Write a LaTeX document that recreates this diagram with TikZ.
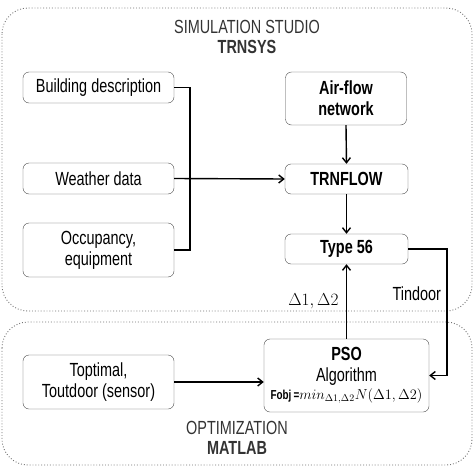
\documentclass[tikz,border=0pt]{standalone}
\usepackage{fontspec}
\setmainfont{Liberation Sans}[FakeStretch=0.76]
\usetikzlibrary{arrows.meta}

\tikzset{
  blk/.style={draw=black!70,rounded corners=6pt,align=center,font=\fontsize{19}{21}\selectfont,inner sep=2pt},
  zone/.style={draw=black!55,dotted,line width=0.9pt,rounded corners=26pt},
  link/.style={line width=1.4pt},
  flow/.style={line width=1.4pt,-{Straight Barb[length=5pt,width=8pt]}},
  ttl/.style={font=\fontsize{19}{21}\selectfont,text=black!80},
}

\begin{document}
\begin{tikzpicture}[x=1pt,y=-1pt]
        \useasboundingbox (0,0) rectangle (474,474);
        \fill[white] (0,0) rectangle (474,474);

        \draw[zone] (2,8) rectangle (472,311);
        \draw[zone] (2,322) rectangle (472,465);
        \node[ttl] (simtitle) at (247,27) {SIMULATION STUDIO};
        \node[ttl,font=\fontsize{19}{21}\selectfont\bfseries] (trnsys) at (247,47) {TRNSYS};
        \node[ttl] (opttitle) at (237,428) {OPTIMIZATION};
        \node[ttl,font=\fontsize{19}{21}\selectfont\bfseries] (matlab) at (237,448) {MATLAB};

        \node[blk,minimum width=151pt,minimum height=31pt] (building) at (98.5,87.5) {Building description};
        \node[blk,minimum width=151pt,minimum height=31pt] (weather) at (98.5,178.5) {Weather data};
        \node[blk,minimum width=151pt,minimum height=54pt] (occupancy) at (98.5,250) {Occupancy,\\equipment};
        \node[blk,minimum width=151pt,minimum height=54pt] (toptimal) at (98.5,382) {Toptimal,\\Toutdoor (sensor)};

        \node[blk,minimum width=121pt,minimum height=53pt,font=\fontsize{19}{21}\selectfont\bfseries] (airflow) at (346,98.5) {Air-flow\\network};
        \node[blk,minimum width=123pt,minimum height=30pt,font=\fontsize{19}{21}\selectfont\bfseries] (trnflow) at (346.5,179) {TRNFLOW};
        \node[blk,minimum width=123pt,minimum height=30pt,font=\fontsize{19}{21}\selectfont\bfseries] (type56) at (346.5,249) {Type 56};
        \node[blk,text width=161pt,minimum height=73pt] (pso) at (346.5,375.5)
            {{\bfseries PSO}\\Algorithm\\[-3pt]{\fontsize{13}{15}\selectfont\bfseries Fobj\,=}{\fontsize{14}{16}\selectfont$min_{\Delta1,\Delta2}N(\Delta1,\Delta2)$}};

        \draw[link] (building.east) -- (190,87.5) -- (190,250) -- (occupancy.east);
        \draw[flow] (weather.east) -- (trnflow.west);
        \draw[flow] (airflow.south) -- (trnflow.north);
        \draw[flow] (trnflow.south) -- (type56.north);
        \draw[flow] (pso.north) -- (type56.south) node[pos=0.5,left=4pt,font=\fontsize{19}{21}\selectfont] (deltas) {$\Delta1,\Delta2$};
        \draw[flow] (type56.east) -- (447,249) -- (447,375.5) node[pos=0.35,left=2pt,font=\fontsize{19}{21}\selectfont] (tindoor) {Tindoor} -- (pso.east);
        \draw[flow] (toptimal.east) -- (toptimal.east -| pso.west);
    \end{tikzpicture}
\end{document}
